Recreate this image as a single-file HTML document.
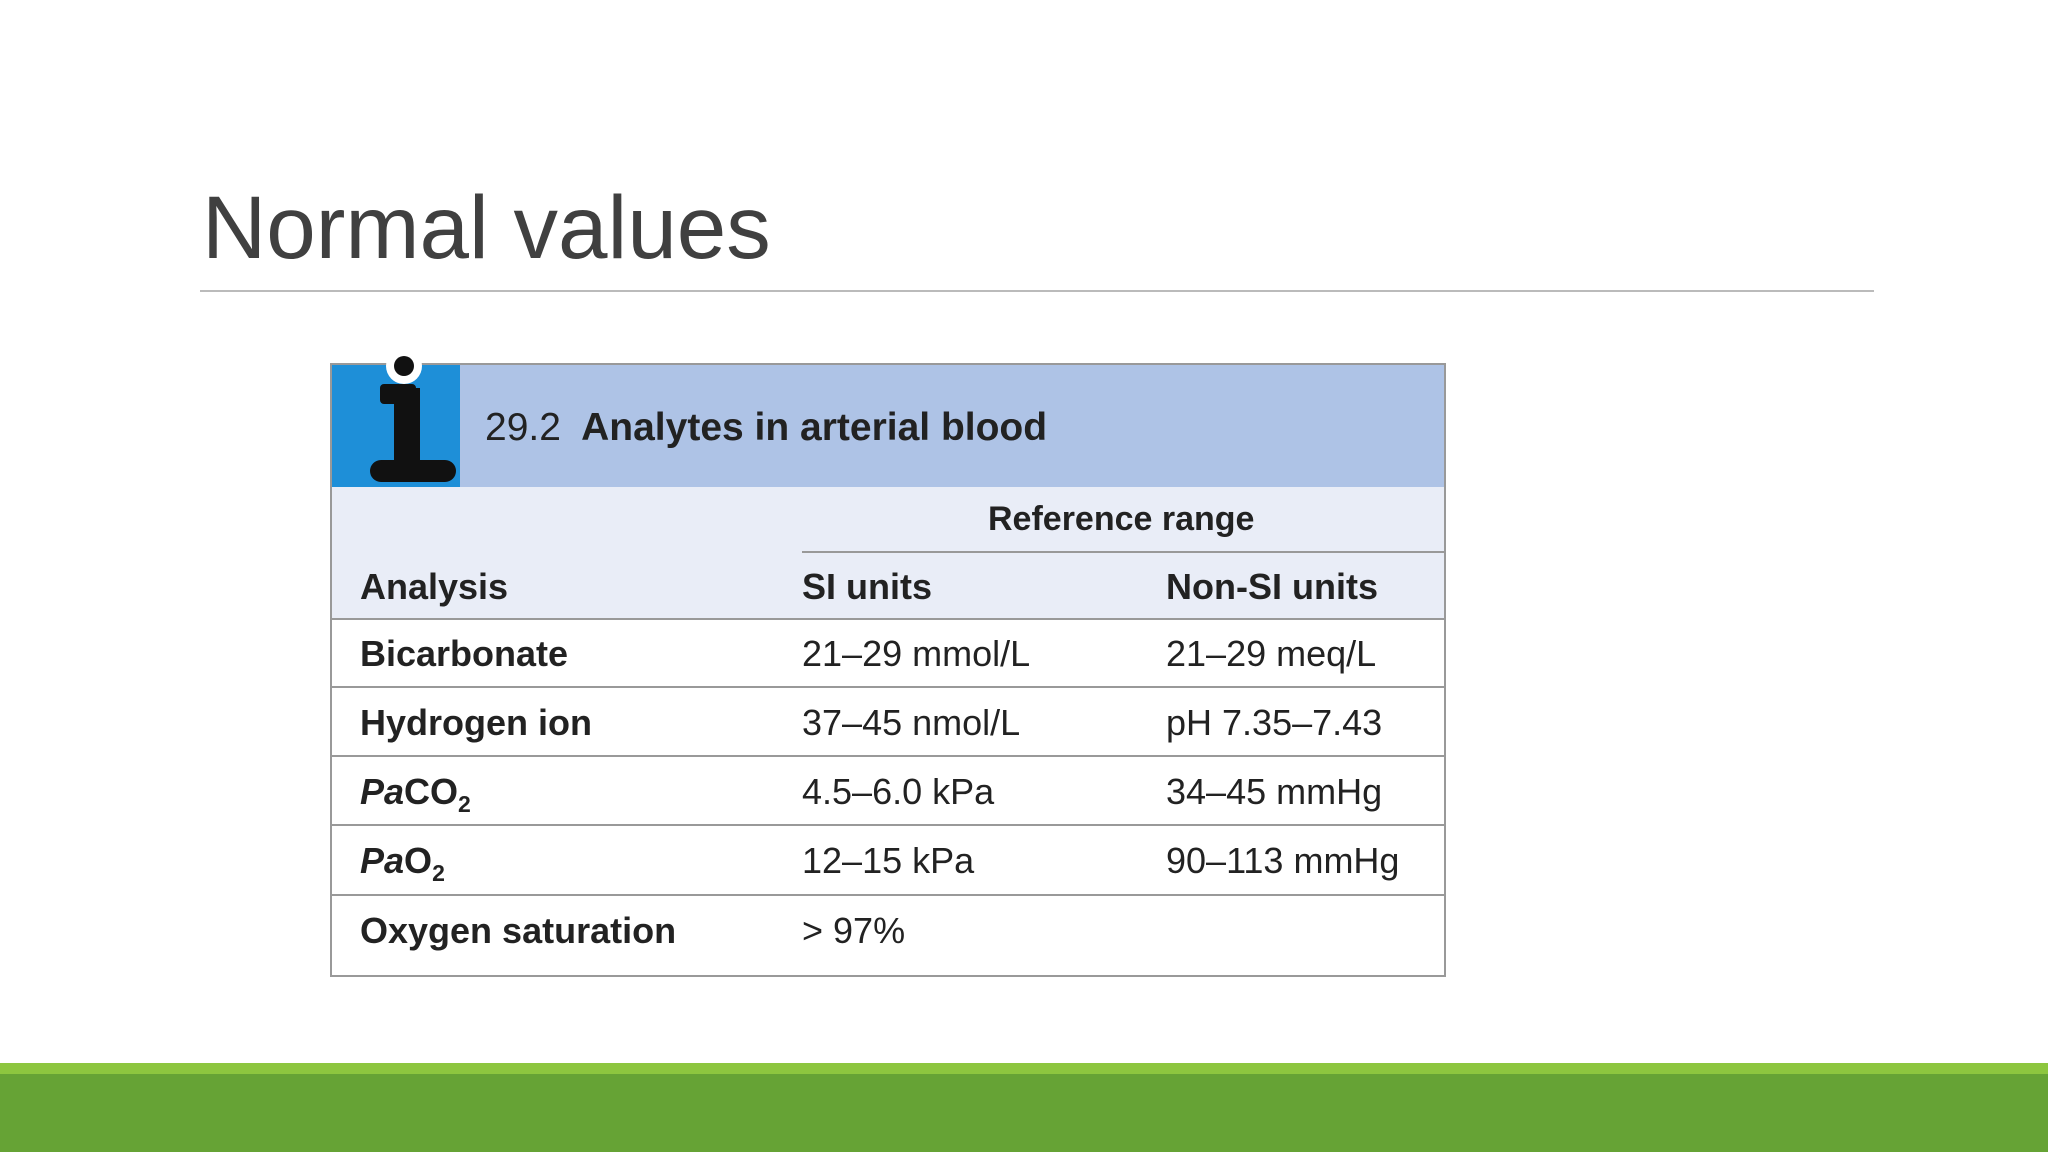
<!DOCTYPE html>
<html><head><meta charset="utf-8"><style>
body{margin:0;width:2048px;height:1152px;background:#fff;position:relative;overflow:hidden;font-family:"Liberation Sans",sans-serif}
.a{position:absolute}
.t{font-family:"Liberation Sans Narrow","Liberation Sans",sans-serif;font-size:36px;color:#222;position:absolute;white-space:nowrap}
.b{font-weight:bold}
.hl{position:absolute;left:330px;width:1114px;height:2px;background:#999}
</style></head><body>
<div class="a" style="left:202px;top:176px;font-size:89px;color:#404040;font-weight:300">Normal values</div>
<div class="a" style="left:200px;top:290px;width:1674px;height:2px;background:#bbb"></div>
<div class="a" style="left:330px;top:363px;width:1112px;height:610px;border:2px solid #999;background:#fff"></div>
<div class="a" style="left:332px;top:365px;width:1112px;height:122px;background:#aec3e6"></div>
<div class="a" style="left:332px;top:365px;width:128px;height:122px;background:#1e8fd8"></div>
<div class="a" style="left:370px;top:348px;width:86px;height:140px">
<div class="a" style="left:16px;top:0;width:36px;height:36px;border-radius:50%;background:#fff"></div>
<div class="a" style="left:24px;top:8px;width:20px;height:20px;border-radius:50%;background:#111"></div>
<div class="a" style="left:10px;top:36px;width:36px;height:20px;background:#111;border-radius:4px"></div>
<div class="a" style="left:24px;top:40px;width:26px;height:80px;background:#111"></div>
<div class="a" style="left:0;top:112px;width:86px;height:22px;background:#111;border-radius:11px"></div>
</div>
<div class="t b" style="left:485px;top:406px;font-size:39px"><span style="font-weight:normal">29.2</span>&nbsp; Analytes in arterial blood</div>
<div class="a" style="left:332px;top:487px;width:1112px;height:132px;background:#e9edf7"></div>
<div class="t b" style="left:988px;top:500px;font-size:34px">Reference range</div>
<div class="a" style="left:802px;top:551px;width:642px;height:2px;background:#999"></div>
<div class="t b" style="left:360px;top:566px">Analysis</div>
<div class="t b" style="left:802px;top:566px">SI units</div>
<div class="t b" style="left:1166px;top:566px">Non-SI units</div>
<div class="hl" style="top:618px"></div><div class="hl" style="top:686px"></div><div class="hl" style="top:755px"></div><div class="hl" style="top:824px"></div><div class="hl" style="top:894px"></div>
<div class="t b" style="left:360px;top:633px">Bicarbonate</div>
<div class="t" style="left:802px;top:633px">21–29 mmol/L</div>
<div class="t" style="left:1166px;top:633px">21–29 meq/L</div>
<div class="t b" style="left:360px;top:702px">Hydrogen ion</div>
<div class="t" style="left:802px;top:702px">37–45 nmol/L</div>
<div class="t" style="left:1166px;top:702px">pH 7.35–7.43</div>
<div class="t b" style="left:360px;top:771px"><i>Pa</i>CO<sub style="font-size:23px">2</sub></div>
<div class="t" style="left:802px;top:771px">4.5–6.0 kPa</div>
<div class="t" style="left:1166px;top:771px">34–45 mmHg</div>
<div class="t b" style="left:360px;top:840px"><i>Pa</i>O<sub style="font-size:23px">2</sub></div>
<div class="t" style="left:802px;top:840px">12–15 kPa</div>
<div class="t" style="left:1166px;top:840px">90–113 mmHg</div>
<div class="t b" style="left:360px;top:910px">Oxygen saturation</div>
<div class="t" style="left:802px;top:910px">&gt; 97%</div>
<div class="a" style="left:0;top:1063px;width:2048px;height:11px;background:#8dc63f"></div>
<div class="a" style="left:0;top:1074px;width:2048px;height:78px;background:#66a335"></div>
</body></html>
